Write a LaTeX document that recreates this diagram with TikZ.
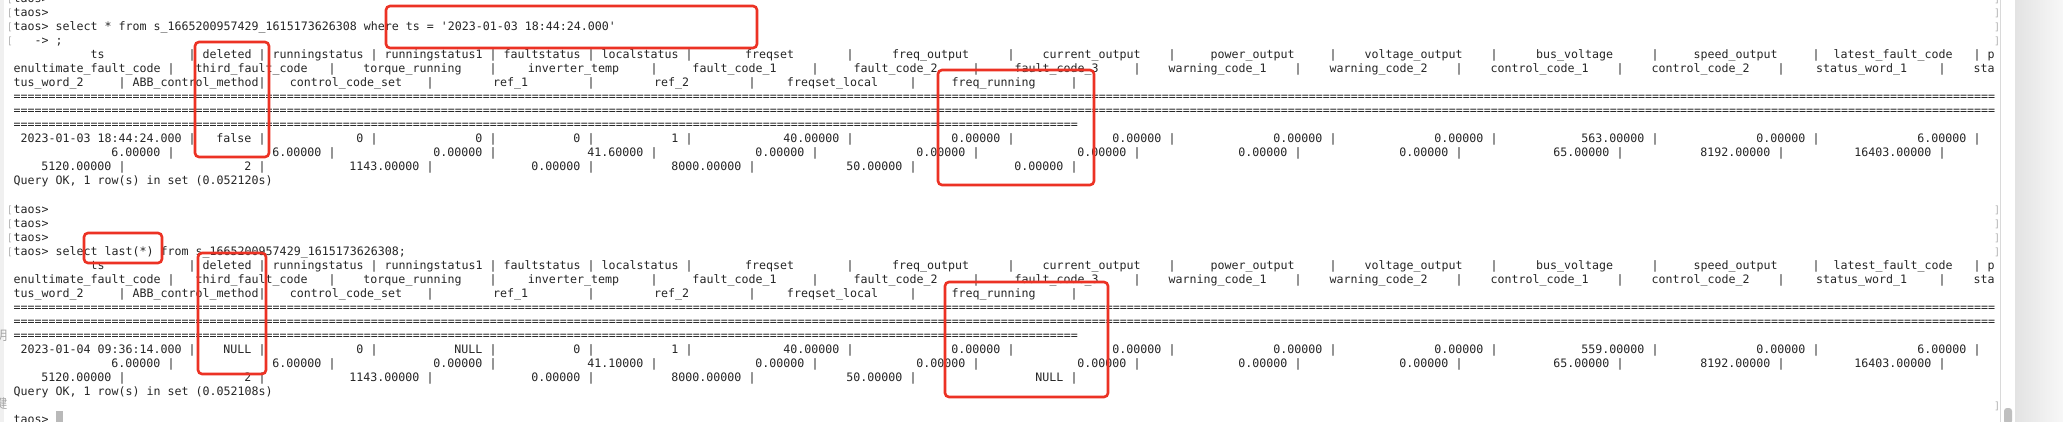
\documentclass[tikz,border=0pt]{standalone}
\usepackage{fontspec}
\newfontfamily\monof{DejaVu Sans Mono}
\newfontfamily\cjk{Noto Sans CJK SC}
\definecolor{boxred}{RGB}{236,50,36}
\ExplSyntaxOn
\cs_new:Npn \eqrun #1 {\prg_replicate:nn{#1}{=}}
\ExplSyntaxOff
\tikzset{tt/.style={inner sep=0pt,font={\monof\fontsize{11.63}{14}\selectfont},text=black!85},
  redbox/.style={draw=boxred,line width=2.6pt,rounded corners=4pt},
  edgemark/.style={inner sep=0pt,font={\monof\fontsize{10}{12}\selectfont},text=gray!60}}
% line k baseline
\newcommand\T[3]{\node[tt,anchor=base west] at ({13.5+7*(#2)},{3+14*(#1)}) {#3};}
\newcommand\R[3]{\node[tt,anchor=base east] at ({13.5+7*(#2+1)},{3+14*(#1)}) {#3};}
\newcommand\B[2]{\node[tt,anchor=base] at ({13.5+7*(#2+0.5)},{3+14*(#1)}) {|};}
\newcommand\C[4]{\node[tt,anchor=base] at ({13.5+7*((#2+#3)/2+0.5)},{3+14*(#1)}) {#4};}
\newcommand\hdr[1]{%
 \T{#1}{11}{ts}\T{#1}{27}{deleted}\T{#1}{37}{runningstatus}\T{#1}{53}{runningstatus1}
 \T{#1}{70}{faultstatus}\T{#1}{84}{localstatus}
 \C{#1}{96}{119}{freqset}\C{#1}{119}{142}{freq\_output}\C{#1}{142}{165}{current\_output}
 \C{#1}{165}{188}{power\_output}\C{#1}{188}{211}{voltage\_output}\C{#1}{211}{234}{bus\_voltage}
 \C{#1}{234}{257}{speed\_output}\T{#1}{260}{latest\_fault\_code}\T{#1}{282}{p}
 \foreach \c in {25,35,51,68,82,96,119,142,165,188,211,234,257,280} {\B{#1}{\c}}
 \T{#1+1}{0}{enultimate\_fault\_code}\T{#1+1}{26}{third\_fault\_code}
 \C{#1+1}{45}{68}{torque\_running}\C{#1+1}{68}{91}{inverter\_temp}\C{#1+1}{91}{114}{fault\_code\_1}
 \C{#1+1}{114}{137}{fault\_code\_2}\C{#1+1}{137}{160}{fault\_code\_3}\C{#1+1}{160}{183}{warning\_code\_1}
 \C{#1+1}{183}{206}{warning\_code\_2}\C{#1+1}{206}{229}{control\_code\_1}\C{#1+1}{229}{252}{control\_code\_2}
 \C{#1+1}{252}{275}{status\_word\_1}\T{#1+1}{280}{sta}
 \foreach \c in {22,45,68,91,114,137,160,183,206,229,252,275} {\B{#1+1}{\c}}
 \T{#1+2}{0}{tus\_word\_2}\T{#1+2}{17}{ABB\_control\_method}\C{#1+2}{35}{59}{control\_code\_set}
 \C{#1+2}{59}{82}{ref\_1}\C{#1+2}{82}{105}{ref\_2}\C{#1+2}{105}{128}{freqset\_local}\C{#1+2}{128}{151}{freq\_running}
 \foreach \c in {15,35,59,82,105,128,151} {\B{#1+2}{\c}}
 \T{#1+3}{0}{\eqrun{283}}\T{#1+4}{0}{\eqrun{283}}\T{#1+5}{0}{\eqrun{152}}}
\newcommand\bars[1]{%
 \foreach \c in {25,35,51,68,82,96,119,142,165,188,211,234,257,280} {\B{#1}{\c}}
 \foreach \c in {22,45,68,91,114,137,160,183,206,229,252,275} {\B{#1+1}{\c}}
 \foreach \c in {15,35,59,82,105,128,151} {\B{#1+2}{\c}}}
\begin{document}
\begin{tikzpicture}[x=1pt,y=-1pt]
\useasboundingbox (0,0) rectangle (2063,422);
\fill[white] (0,0) rectangle (2063,422);
% window chrome
\fill[gray!12] (0,0) rectangle (4,422);
\begin{scope}
\clip (0,0) rectangle (7,422);
\node[inner sep=0pt,font={\cjk\fontsize{13}{13}\selectfont},text=gray!70] at (1,336) {明};
\node[inner sep=0pt,font={\cjk\fontsize{13}{13}\selectfont},text=gray!70] at (1,404) {键};
\end{scope}
\shade[left color=gray!22,right color=gray!6] (2015,0) rectangle (2063,422);
\draw[gray!30,line width=0.6pt] (2000,0) -- (2000,422);
\fill[gray!50,rounded corners=3pt] (2004,408) rectangle (2012,424);
\foreach \k in {0,1,2,3,15,16,17,18} {
  \node[edgemark,anchor=base] at (10,{3+14*\k}) {[};
  \node[edgemark,anchor=base] at (1997,{3+14*\k}) {]};}
\node[edgemark,anchor=base] at (1997,409) {]};
% first query
\T{0}{0}{taos>}\T{1}{0}{taos>}
\T{2}{0}{taos> select * from s\_1665200957429\_1615173626308 where ts = '2023-01-03 18:44:24.000'}
\T{3}{3}{->}\T{3}{6}{;}
\hdr{4}
\bars{10}
\T{10}{1}{2023-01-03 18:44:24.000}\R{10}{33}{false}\R{10}{49}{0}\R{10}{66}{0}\R{10}{80}{0}\R{10}{94}{1}
\R{10}{117}{40.00000}\R{10}{140}{0.00000}\R{10}{163}{0.00000}\R{10}{186}{0.00000}\R{10}{209}{0.00000}
\R{10}{232}{563.00000}\R{10}{255}{0.00000}\R{10}{278}{6.00000}
\R{11}{20}{6.00000}\R{11}{43}{6.00000}\R{11}{66}{0.00000}\R{11}{89}{41.60000}\R{11}{112}{0.00000}
\R{11}{135}{0.00000}\R{11}{158}{0.00000}\R{11}{181}{0.00000}\R{11}{204}{0.00000}\R{11}{227}{65.00000}
\R{11}{250}{8192.00000}\R{11}{273}{16403.00000}
\R{12}{13}{5120.00000}\R{12}{33}{2}\R{12}{57}{1143.00000}\R{12}{80}{0.00000}\R{12}{103}{8000.00000}
\R{12}{126}{50.00000}\R{12}{149}{0.00000}
\T{13}{0}{Query OK, 1 row(s) in set (0.052120s)}
% second query
\T{15}{0}{taos>}\T{16}{0}{taos>}\T{17}{0}{taos>}
\T{18}{0}{taos> select last(*) from s\_1665200957429\_1615173626308;}
\hdr{19}
\bars{25}
\T{25}{1}{2023-01-04 09:36:14.000}\R{25}{33}{NULL}\R{25}{49}{0}\R{25}{66}{NULL}\R{25}{80}{0}\R{25}{94}{1}
\R{25}{117}{40.00000}\R{25}{140}{0.00000}\R{25}{163}{0.00000}\R{25}{186}{0.00000}\R{25}{209}{0.00000}
\R{25}{232}{559.00000}\R{25}{255}{0.00000}\R{25}{278}{6.00000}
\R{26}{20}{6.00000}\R{26}{43}{6.00000}\R{26}{66}{0.00000}\R{26}{89}{41.10000}\R{26}{112}{0.00000}
\R{26}{135}{0.00000}\R{26}{158}{0.00000}\R{26}{181}{0.00000}\R{26}{204}{0.00000}\R{26}{227}{65.00000}
\R{26}{250}{8192.00000}\R{26}{273}{16403.00000}
\R{27}{13}{5120.00000}\R{27}{33}{2}\R{27}{57}{1143.00000}\R{27}{80}{0.00000}\R{27}{103}{8000.00000}
\R{27}{126}{50.00000}\R{27}{149}{NULL}
\T{28}{0}{Query OK, 1 row(s) in set (0.052108s)}
\T{30}{0}{taos>}
\fill[gray!55] (56,411) rectangle (63,424);
% red highlight boxes
\draw[redbox] (386,6) rectangle (757,48);
\draw[redbox] (195,42) rectangle (269,157);
\draw[redbox] (938,70) rectangle (1094,185);
\draw[redbox] (84,233) rectangle (162,263);
\draw[redbox] (198,253) rectangle (266,374);
\draw[redbox] (945,282) rectangle (1108,397);
\end{tikzpicture}
\end{document}
